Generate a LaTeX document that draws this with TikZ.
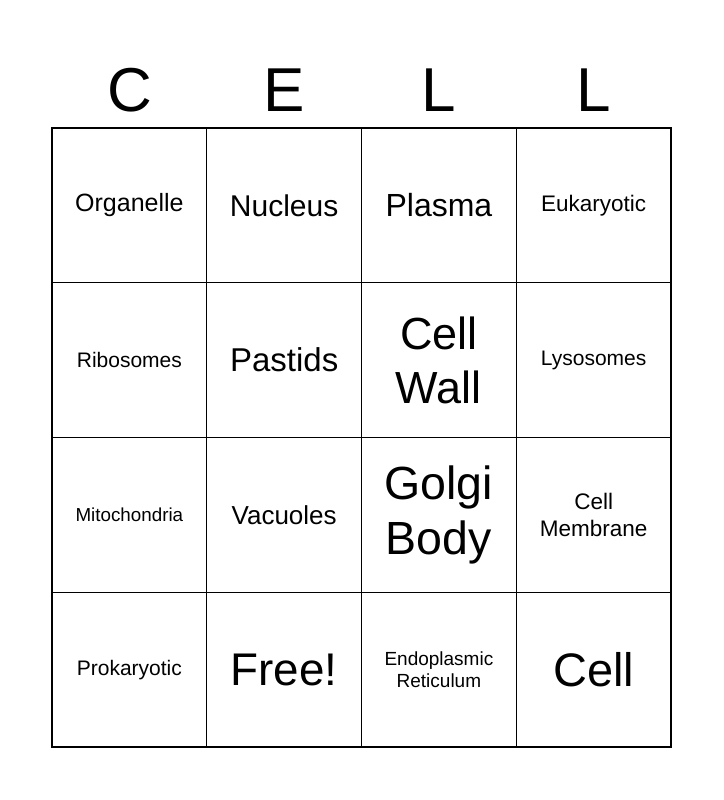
\documentclass[tikz,border=0pt]{standalone}
\usepackage{fontspec}
\setmainfont{Liberation Sans}
\usetikzlibrary{positioning}

\tikzset{
  cellbox/.style={draw=black, line width=1.2pt},
  word/.style={align=center, inner sep=0pt},
  letter/.style={inner sep=0pt, font=\fontsize{62}{62}\selectfont}
}

\begin{document}
\begin{tikzpicture}[x=1pt, y=-1pt]
  \useasboundingbox[fill=white] (0,0) rectangle (723,800);
  % header
  \foreach \ch [count=\i from 0] in {C,E,L,L}
    \node[letter] (head\i) at (129.4+154.75*\i, 90) {\ch};
  % grid
  \foreach \c in {0,...,3}
    \foreach \r in {0,...,3}
      \draw[cellbox] (52+154.75*\c, 128+154.75*\r) rectangle ++(154.75,154.75);
  % words: column/row/size/text
  \foreach \c/\r/\s/\t [evaluate=\s as \lead using 1.2*\s] in {
      0/0/25/Organelle, 1/0/30/Nucleus, 2/0/32/Plasma, 3/0/22.5/Eukaryotic,
      0/1/21/Ribosomes, 1/1/33/Pastids, 2/1/45/{Cell\\Wall}, 3/1/21/Lysosomes,
      0/2/18.8/Mitochondria, 1/2/26/Vacuoles, 2/2/46.5/{Golgi\\Body}, 3/2/22.5/{Cell\\Membrane},
      0/3/21/Prokaryotic, 1/3/45.8/Free!, 2/3/19/{Endoplasmic\\Reticulum}, 3/3/47/Cell}
    \node[word, font=\fontsize{\s}{\lead}\selectfont] (cell\c\r)
      at (129.4+154.75*\c, 205.4+154.75*\r) {\t};
\end{tikzpicture}
\end{document}
